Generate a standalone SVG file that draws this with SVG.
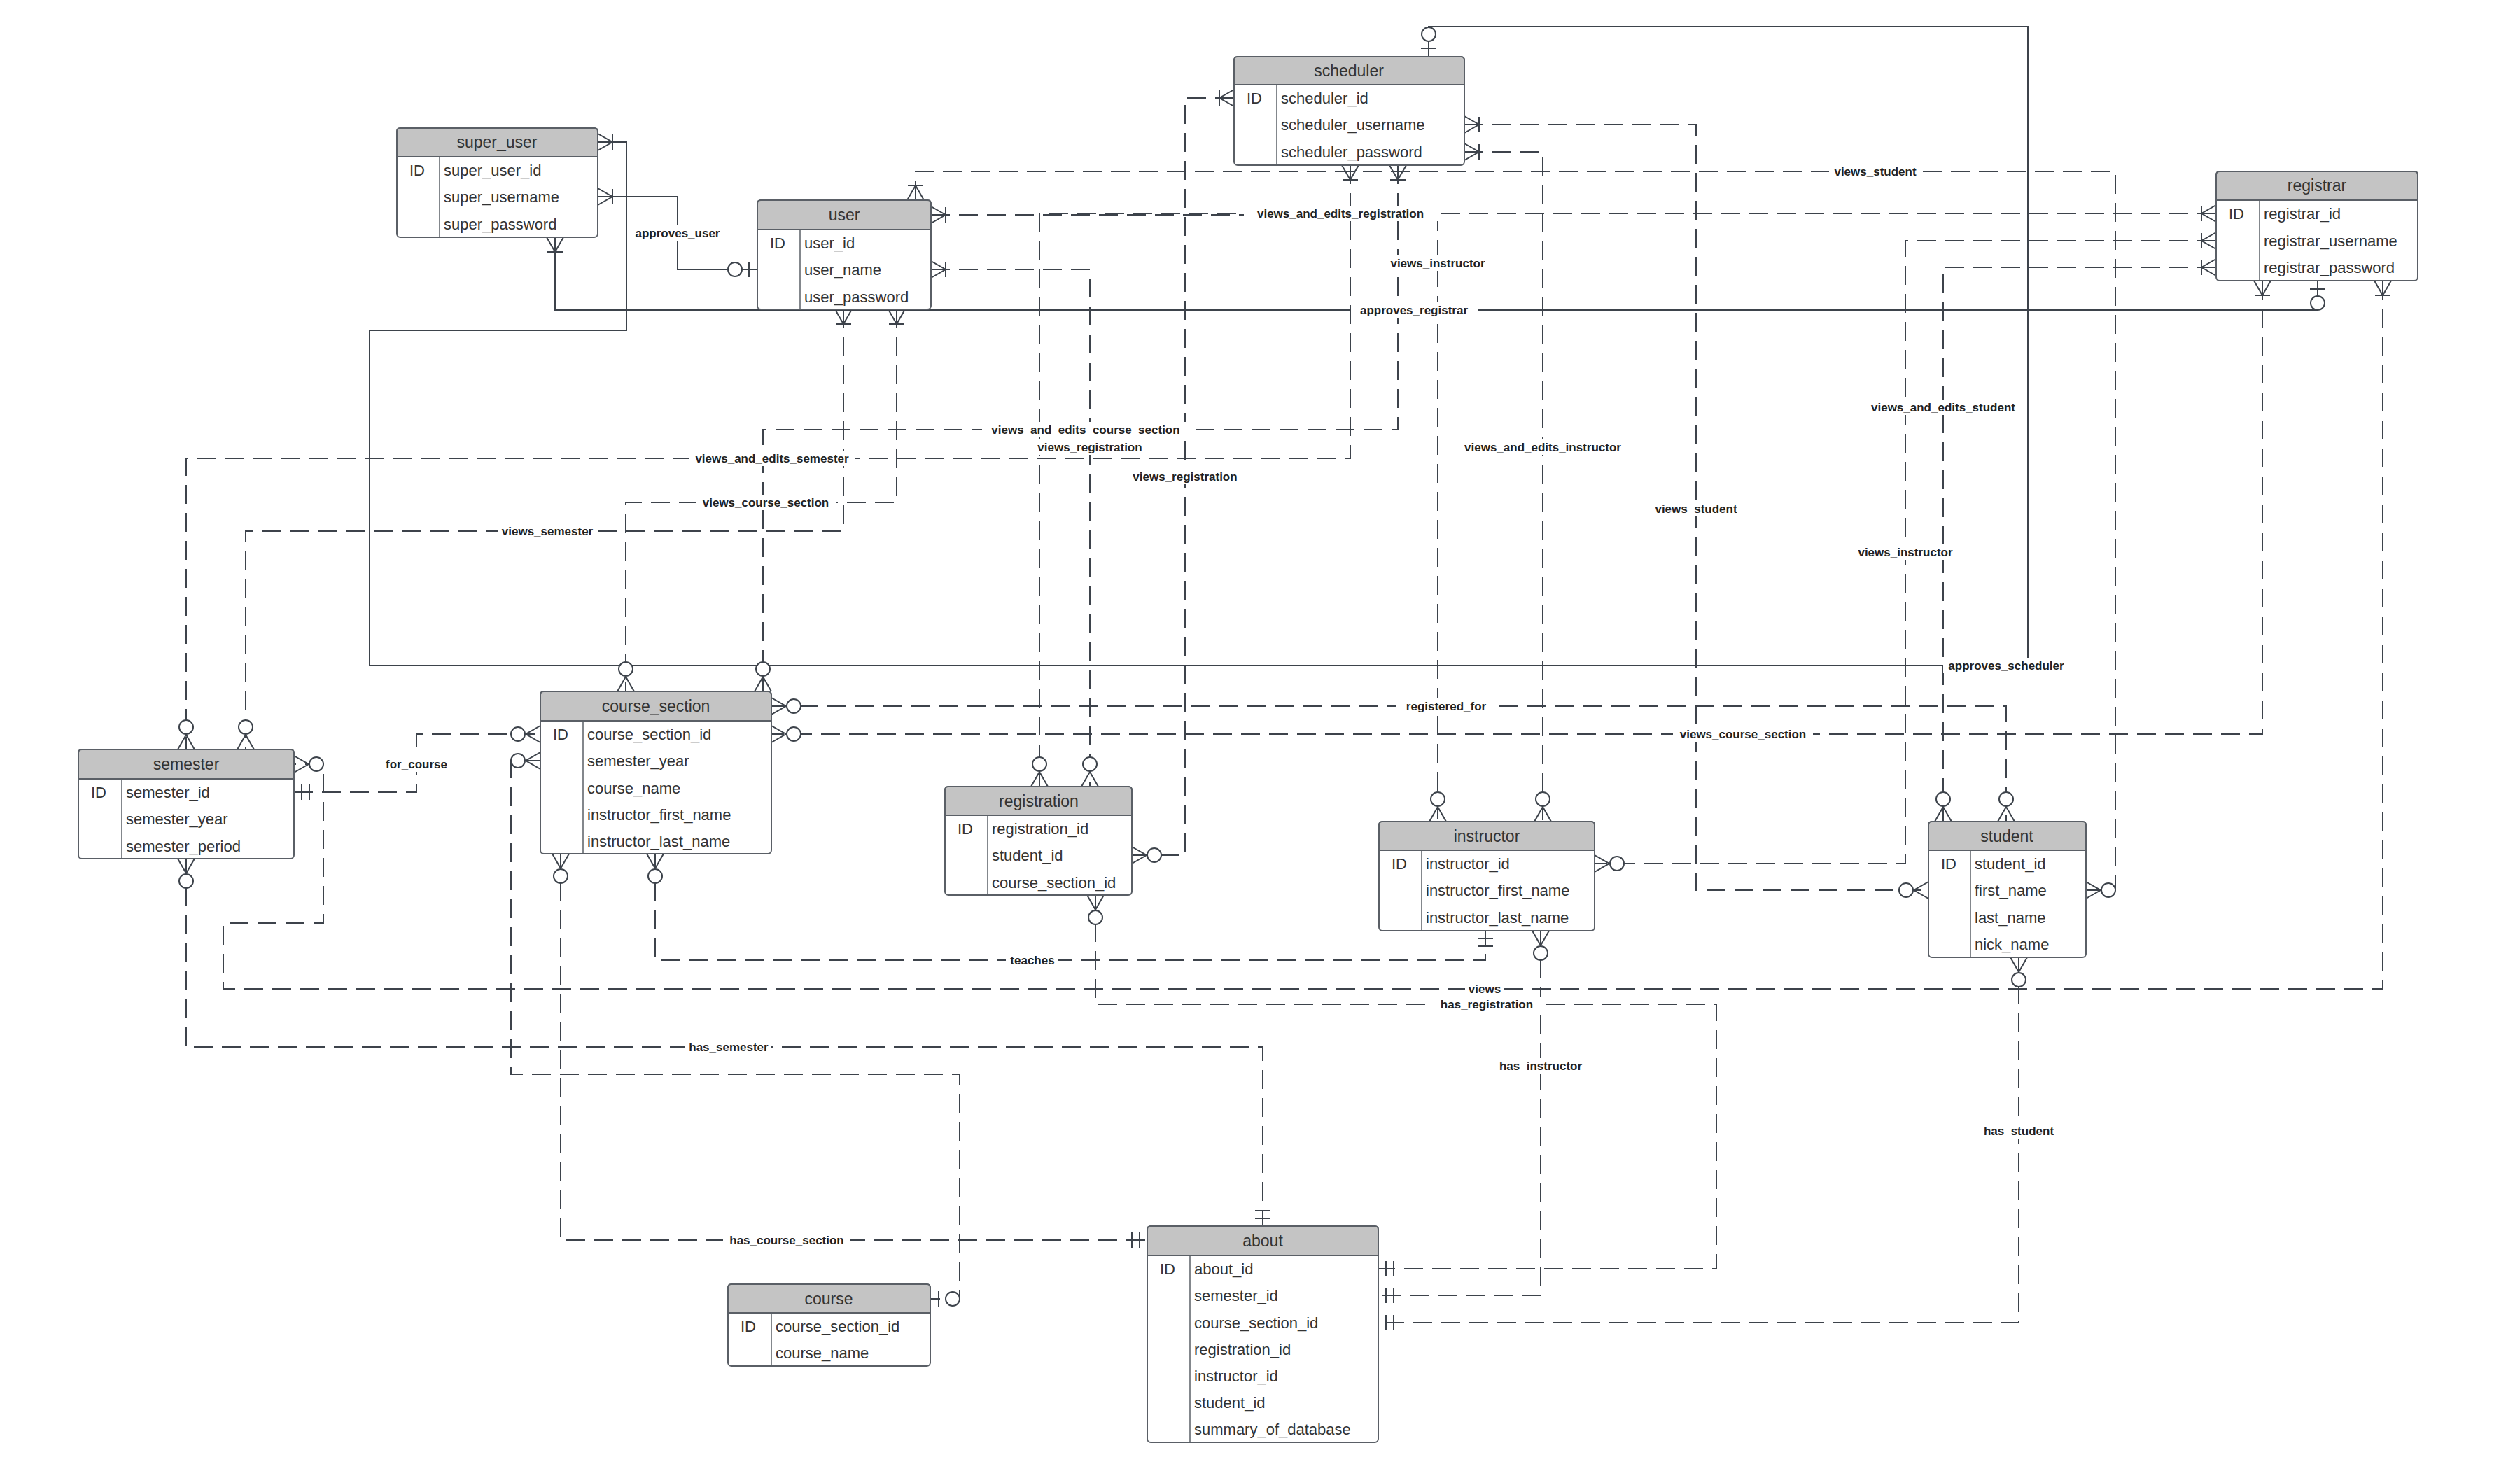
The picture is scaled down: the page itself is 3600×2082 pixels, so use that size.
<svg xmlns="http://www.w3.org/2000/svg" width="3600" height="2082" viewBox="0 0 3600 2082">
<style>
.bg{fill:#fff;stroke:#5a5f66;stroke-width:2}
.hd{fill:#c4c4c4;stroke:#5a5f66;stroke-width:2}
.dv{stroke:#5a5f66;stroke-width:1.5}
.t{font-family:"Liberation Sans",Arial,sans-serif;font-size:22px;fill:#333}
.h{font-family:"Liberation Sans",Arial,sans-serif;font-size:23px;fill:#333;text-anchor:middle}
.c{fill:none;stroke:#3d434b;stroke-width:2}
.d{stroke-dasharray:27 13}
.m{fill:none;stroke:#3d434b;stroke-width:2;stroke-dasharray:none}
.mc{fill:#fff;stroke:#3d434b;stroke-width:2;stroke-dasharray:none}
.lb{fill:#fff}
.l{font-family:"Liberation Sans",Arial,sans-serif;font-size:17px;font-weight:bold;fill:#222;text-anchor:middle}
</style>
<defs>
<marker id="om" markerUnits="userSpaceOnUse" orient="auto-start-reverse" overflow="visible" markerWidth="1" markerHeight="1"><path class="m" d="M0,-12 L-21,0 L0,12 M-21,-11 V11"/></marker>
<marker id="zm" markerUnits="userSpaceOnUse" orient="auto-start-reverse" overflow="visible" markerWidth="1" markerHeight="1"><path class="m" d="M0,-12 L-21,0 L0,12"/><circle class="mc" cx="-32" cy="0" r="10"/></marker>
<marker id="zo" markerUnits="userSpaceOnUse" orient="auto-start-reverse" overflow="visible" markerWidth="1" markerHeight="1"><path class="m" d="M-12,-11 V11"/><circle class="mc" cx="-32" cy="0" r="10"/></marker>
<marker id="oo" markerUnits="userSpaceOnUse" orient="auto-start-reverse" overflow="visible" markerWidth="1" markerHeight="1"><path class="m" d="M-11,-11 V11 M-22,-11 V11"/></marker>
</defs>
<rect width="3600" height="2082" fill="#fff"/>
<g id="connectors">
<path class="c" d="M854,281 H968 V385 H1082" marker-start="url(#om)" marker-end="url(#zo)"/>
<path class="c" d="M854,203 H895 V472 H528 V951 H2897 V38 H2041 V81" marker-start="url(#om)" marker-end="url(#zo)"/>
<path class="c" d="M793,339 V443 H3311 V401" marker-start="url(#om)" marker-end="url(#zo)"/>
<path class="c d" d="M3166,305 H1485 V1124" marker-start="url(#om)" marker-end="url(#zm)"/>
<path class="c d" d="M1330,307 H2054 V1174" marker-start="url(#om)" marker-end="url(#zm)"/>
<path class="c d" d="M1330,385 H1557 V1124" marker-start="url(#om)" marker-end="url(#zm)"/>
<path class="c d" d="M1308,286 V245 H3022 V1272 H2980" marker-start="url(#om)" marker-end="url(#zm)"/>
<path class="c d" d="M1205,442 V759 H351 V1071" marker-start="url(#om)" marker-end="url(#zm)"/>
<path class="c d" d="M1281,442 V718 H894 V988" marker-start="url(#om)" marker-end="url(#zm)"/>
<path class="c d" d="M1763,140 H1693 V1222 H1617" marker-start="url(#om)" marker-end="url(#zm)"/>
<path class="c d" d="M1929,236 V655 H266 V1071" marker-start="url(#om)" marker-end="url(#zm)"/>
<path class="c d" d="M1997,236 V614 H1090 V988" marker-start="url(#om)" marker-end="url(#zm)"/>
<path class="c d" d="M2092,178 H2423 V1272 H2755" marker-start="url(#om)" marker-end="url(#zm)"/>
<path class="c d" d="M2092,217 H2204 V1174" marker-start="url(#om)" marker-end="url(#zm)"/>
<path class="c d" d="M3166,344 H2722 V1234 H2278" marker-start="url(#om)" marker-end="url(#zm)"/>
<path class="c d" d="M3166,382 H2776 V1174" marker-start="url(#om)" marker-end="url(#zm)"/>
<path class="c d" d="M3232,401 V1049 H1102" marker-start="url(#om)" marker-end="url(#zm)"/>
<path class="c d" d="M3404,401 V1413 H319 V1319 H462 V1092 H420" marker-start="url(#om)" marker-end="url(#zm)"/>
<path class="c d" d="M1102,1009 H2866 V1174" marker-start="url(#zm)" marker-end="url(#zm)"/>
<path class="c d" d="M420,1132 H595 V1049 H772" marker-start="url(#oo)" marker-end="url(#zm)"/>
<path class="c d" d="M936,1220 V1372 H2122 V1330" marker-start="url(#zm)" marker-end="url(#oo)"/>
<path class="c d" d="M1565,1279 V1435 H2452 V1813 H1969" marker-start="url(#zm)" marker-end="url(#oo)"/>
<path class="c d" d="M2201,1330 V1851 H1969" marker-start="url(#zm)" marker-end="url(#oo)"/>
<path class="c d" d="M2884,1368 V1890 H1969" marker-start="url(#zm)" marker-end="url(#oo)"/>
<path class="c d" d="M266,1227 V1496 H1804 V1752" marker-start="url(#zm)" marker-end="url(#oo)"/>
<path class="c d" d="M801,1220 V1772 H1639" marker-start="url(#zm)" marker-end="url(#oo)"/>
<path class="c d" d="M772,1087 H730 V1535 H1371 V1856 H1329" marker-start="url(#zm)" marker-end="url(#zo)"/>
<g>
<rect class="lb" x="902" y="322" width="133" height="22"/><text class="l" x="968" y="339">approves_user</text>
<rect class="lb" x="2776" y="940" width="181" height="22"/><text class="l" x="2866" y="957">approves_scheduler</text>
<rect class="lb" x="1930" y="432" width="181" height="22"/><text class="l" x="2020" y="449">approves_registrar</text>
<rect class="lb" x="1777" y="294" width="277" height="22"/><text class="l" x="1915" y="311">views_and_edits_registration</text>
<rect class="lb" x="1973" y="365" width="162" height="22"/><text class="l" x="2054" y="382">views_instructor</text>
<rect class="lb" x="1467" y="628" width="181" height="22"/><text class="l" x="1557" y="645">views_registration</text>
<rect class="lb" x="2613" y="234" width="133" height="22"/><text class="l" x="2679" y="251">views_student</text>
<rect class="lb" x="711" y="748" width="142" height="22"/><text class="l" x="782" y="765">views_semester</text>
<rect class="lb" x="994" y="707" width="200" height="22"/><text class="l" x="1094" y="724">views_course_section</text>
<rect class="lb" x="1603" y="670" width="181" height="22"/><text class="l" x="1693" y="687">views_registration</text>
<rect class="lb" x="984" y="644" width="238" height="22"/><text class="l" x="1103" y="661">views_and_edits_semester</text>
<rect class="lb" x="1403" y="603" width="296" height="22"/><text class="l" x="1551" y="620">views_and_edits_course_section</text>
<rect class="lb" x="2357" y="716" width="133" height="22"/><text class="l" x="2423" y="733">views_student</text>
<rect class="lb" x="2075" y="628" width="258" height="22"/><text class="l" x="2204" y="645">views_and_edits_instructor</text>
<rect class="lb" x="2641" y="778" width="162" height="22"/><text class="l" x="2722" y="795">views_instructor</text>
<rect class="lb" x="2662" y="571" width="229" height="22"/><text class="l" x="2776" y="588">views_and_edits_student</text>
<rect class="lb" x="2390" y="1038" width="200" height="22"/><text class="l" x="2490" y="1055">views_course_section</text>
<rect class="lb" x="2093" y="1402" width="56" height="22"/><text class="l" x="2121" y="1419">views</text>
<rect class="lb" x="1995" y="998" width="142" height="22"/><text class="l" x="2066" y="1015">registered_for</text>
<rect class="lb" x="543" y="1081" width="104" height="22"/><text class="l" x="595" y="1098">for_course</text>
<rect class="lb" x="1437" y="1361" width="75" height="22"/><text class="l" x="1475" y="1378">teaches</text>
<rect class="lb" x="2043" y="1424" width="162" height="22"/><text class="l" x="2124" y="1441">has_registration</text>
<rect class="lb" x="2130" y="1512" width="142" height="22"/><text class="l" x="2201" y="1529">has_instructor</text>
<rect class="lb" x="2827" y="1605" width="114" height="22"/><text class="l" x="2884" y="1622">has_student</text>
<rect class="lb" x="979" y="1485" width="123" height="22"/><text class="l" x="1041" y="1502">has_semester</text>
<rect class="lb" x="1033" y="1761" width="181" height="22"/><text class="l" x="1124" y="1778">has_course_section</text>
</g>
</g>
<g id="super_user">
<rect class="bg" x="567" y="183" width="287" height="156" rx="5"/><path class="hd" d="M572,183 H849 Q854,183 854,188 V224 H567 V188 Q567,183 572,183 Z"/>
<line class="dv" x1="628" y1="224" x2="628" y2="339"/>
<text class="h" x="710" y="211">super_user</text>
<text class="t" x="585" y="251">ID</text><text class="t" x="634" y="251">super_user_id</text>
<text class="t" x="634" y="289">super_username</text><text class="t" x="634" y="328">super_password</text>
</g>
<g id="user">
<rect class="bg" x="1082" y="286" width="248" height="156" rx="5"/><path class="hd" d="M1087,286 H1325 Q1330,286 1330,291 V328 H1082 V291 Q1082,286 1087,286 Z"/>
<line class="dv" x1="1143" y1="328" x2="1143" y2="442"/>
<text class="h" x="1206" y="315">user</text>
<text class="t" x="1100" y="355">ID</text><text class="t" x="1149" y="355">user_id</text>
<text class="t" x="1149" y="393">user_name</text><text class="t" x="1149" y="432">user_password</text>
</g>
<g id="scheduler">
<rect class="bg" x="1763" y="81" width="329" height="155" rx="5"/><path class="hd" d="M1768,81 H2087 Q2092,81 2092,86 V121 H1763 V86 Q1763,81 1768,81 Z"/>
<line class="dv" x1="1824" y1="121" x2="1824" y2="236"/>
<text class="h" x="1927" y="109">scheduler</text>
<text class="t" x="1781" y="148">ID</text><text class="t" x="1830" y="148">scheduler_id</text>
<text class="t" x="1830" y="186">scheduler_username</text><text class="t" x="1830" y="225">scheduler_password</text>
</g>
<g id="registrar">
<rect class="bg" x="3166" y="245" width="288" height="156" rx="5"/><path class="hd" d="M3171,245 H3449 Q3454,245 3454,250 V286 H3166 V250 Q3166,245 3171,245 Z"/>
<line class="dv" x1="3228" y1="286" x2="3228" y2="401"/>
<text class="h" x="3310" y="273">registrar</text>
<text class="t" x="3184" y="313">ID</text><text class="t" x="3234" y="313">registrar_id</text>
<text class="t" x="3234" y="352">registrar_username</text><text class="t" x="3234" y="390">registrar_password</text>
</g>
<g id="semester">
<rect class="bg" x="112" y="1071" width="308" height="156" rx="5"/><path class="hd" d="M117,1071 H415 Q420,1071 420,1076 V1113 H112 V1076 Q112,1071 117,1071 Z"/>
<line class="dv" x1="174" y1="1113" x2="174" y2="1227"/>
<text class="h" x="266" y="1100">semester</text>
<text class="t" x="130" y="1140">ID</text><text class="t" x="180" y="1140">semester_id</text>
<text class="t" x="180" y="1178">semester_year</text><text class="t" x="180" y="1217">semester_period</text>
</g>
<g id="course_section">
<rect class="bg" x="772" y="988" width="330" height="232" rx="5"/><path class="hd" d="M777,988 H1097 Q1102,988 1102,993 V1030 H772 V993 Q772,988 777,988 Z"/>
<line class="dv" x1="833" y1="1030" x2="833" y2="1220"/>
<text class="h" x="937" y="1017">course_section</text>
<text class="t" x="790" y="1057">ID</text><text class="t" x="839" y="1057">course_section_id</text>
<text class="t" x="839" y="1095">semester_year</text><text class="t" x="839" y="1134">course_name</text>
<text class="t" x="839" y="1172">instructor_first_name</text><text class="t" x="839" y="1210">instructor_last_name</text>
</g>
<g id="registration">
<rect class="bg" x="1350" y="1124" width="267" height="155" rx="5"/><path class="hd" d="M1355,1124 H1612 Q1617,1124 1617,1129 V1165 H1350 V1129 Q1350,1124 1355,1124 Z"/>
<line class="dv" x1="1411" y1="1165" x2="1411" y2="1279"/>
<text class="h" x="1484" y="1153">registration</text>
<text class="t" x="1368" y="1192">ID</text><text class="t" x="1417" y="1192">registration_id</text>
<text class="t" x="1417" y="1230">student_id</text><text class="t" x="1417" y="1269">course_section_id</text>
</g>
<g id="instructor">
<rect class="bg" x="1970" y="1174" width="308" height="156" rx="5"/><path class="hd" d="M1975,1174 H2273 Q2278,1174 2278,1179 V1215 H1970 V1179 Q1970,1174 1975,1174 Z"/>
<line class="dv" x1="2031" y1="1215" x2="2031" y2="1330"/>
<text class="h" x="2124" y="1203">instructor</text>
<text class="t" x="1988" y="1242">ID</text><text class="t" x="2037" y="1242">instructor_id</text>
<text class="t" x="2037" y="1280">instructor_first_name</text><text class="t" x="2037" y="1319">instructor_last_name</text>
</g>
<g id="student">
<rect class="bg" x="2755" y="1174" width="225" height="194" rx="5"/><path class="hd" d="M2760,1174 H2975 Q2980,1174 2980,1179 V1215 H2755 V1179 Q2755,1174 2760,1174 Z"/>
<line class="dv" x1="2815" y1="1215" x2="2815" y2="1368"/>
<text class="h" x="2867" y="1203">student</text>
<text class="t" x="2773" y="1242">ID</text><text class="t" x="2821" y="1242">student_id</text>
<text class="t" x="2821" y="1280">first_name</text><text class="t" x="2821" y="1319">last_name</text><text class="t" x="2821" y="1357">nick_name</text>
</g>
<g id="course">
<rect class="bg" x="1040" y="1835" width="289" height="117" rx="5"/><path class="hd" d="M1045,1835 H1324 Q1329,1835 1329,1840 V1876 H1040 V1840 Q1040,1835 1045,1835 Z"/>
<line class="dv" x1="1102" y1="1876" x2="1102" y2="1952"/>
<text class="h" x="1184" y="1864">course</text>
<text class="t" x="1058" y="1903">ID</text><text class="t" x="1108" y="1903">course_section_id</text>
<text class="t" x="1108" y="1941">course_name</text>
</g>
<g id="about">
<rect class="bg" x="1639" y="1752" width="330" height="309" rx="5"/><path class="hd" d="M1644,1752 H1964 Q1969,1752 1969,1757 V1794 H1639 V1757 Q1639,1752 1644,1752 Z"/>
<line class="dv" x1="1700" y1="1794" x2="1700" y2="2061"/>
<text class="h" x="1804" y="1781">about</text>
<text class="t" x="1657" y="1821">ID</text><text class="t" x="1706" y="1821">about_id</text>
<text class="t" x="1706" y="1859">semester_id</text><text class="t" x="1706" y="1898">course_section_id</text>
<text class="t" x="1706" y="1936">registration_id</text><text class="t" x="1706" y="1974">instructor_id</text>
<text class="t" x="1706" y="2012">student_id</text><text class="t" x="1706" y="2050">summary_of_database</text>
</g>
</svg>
